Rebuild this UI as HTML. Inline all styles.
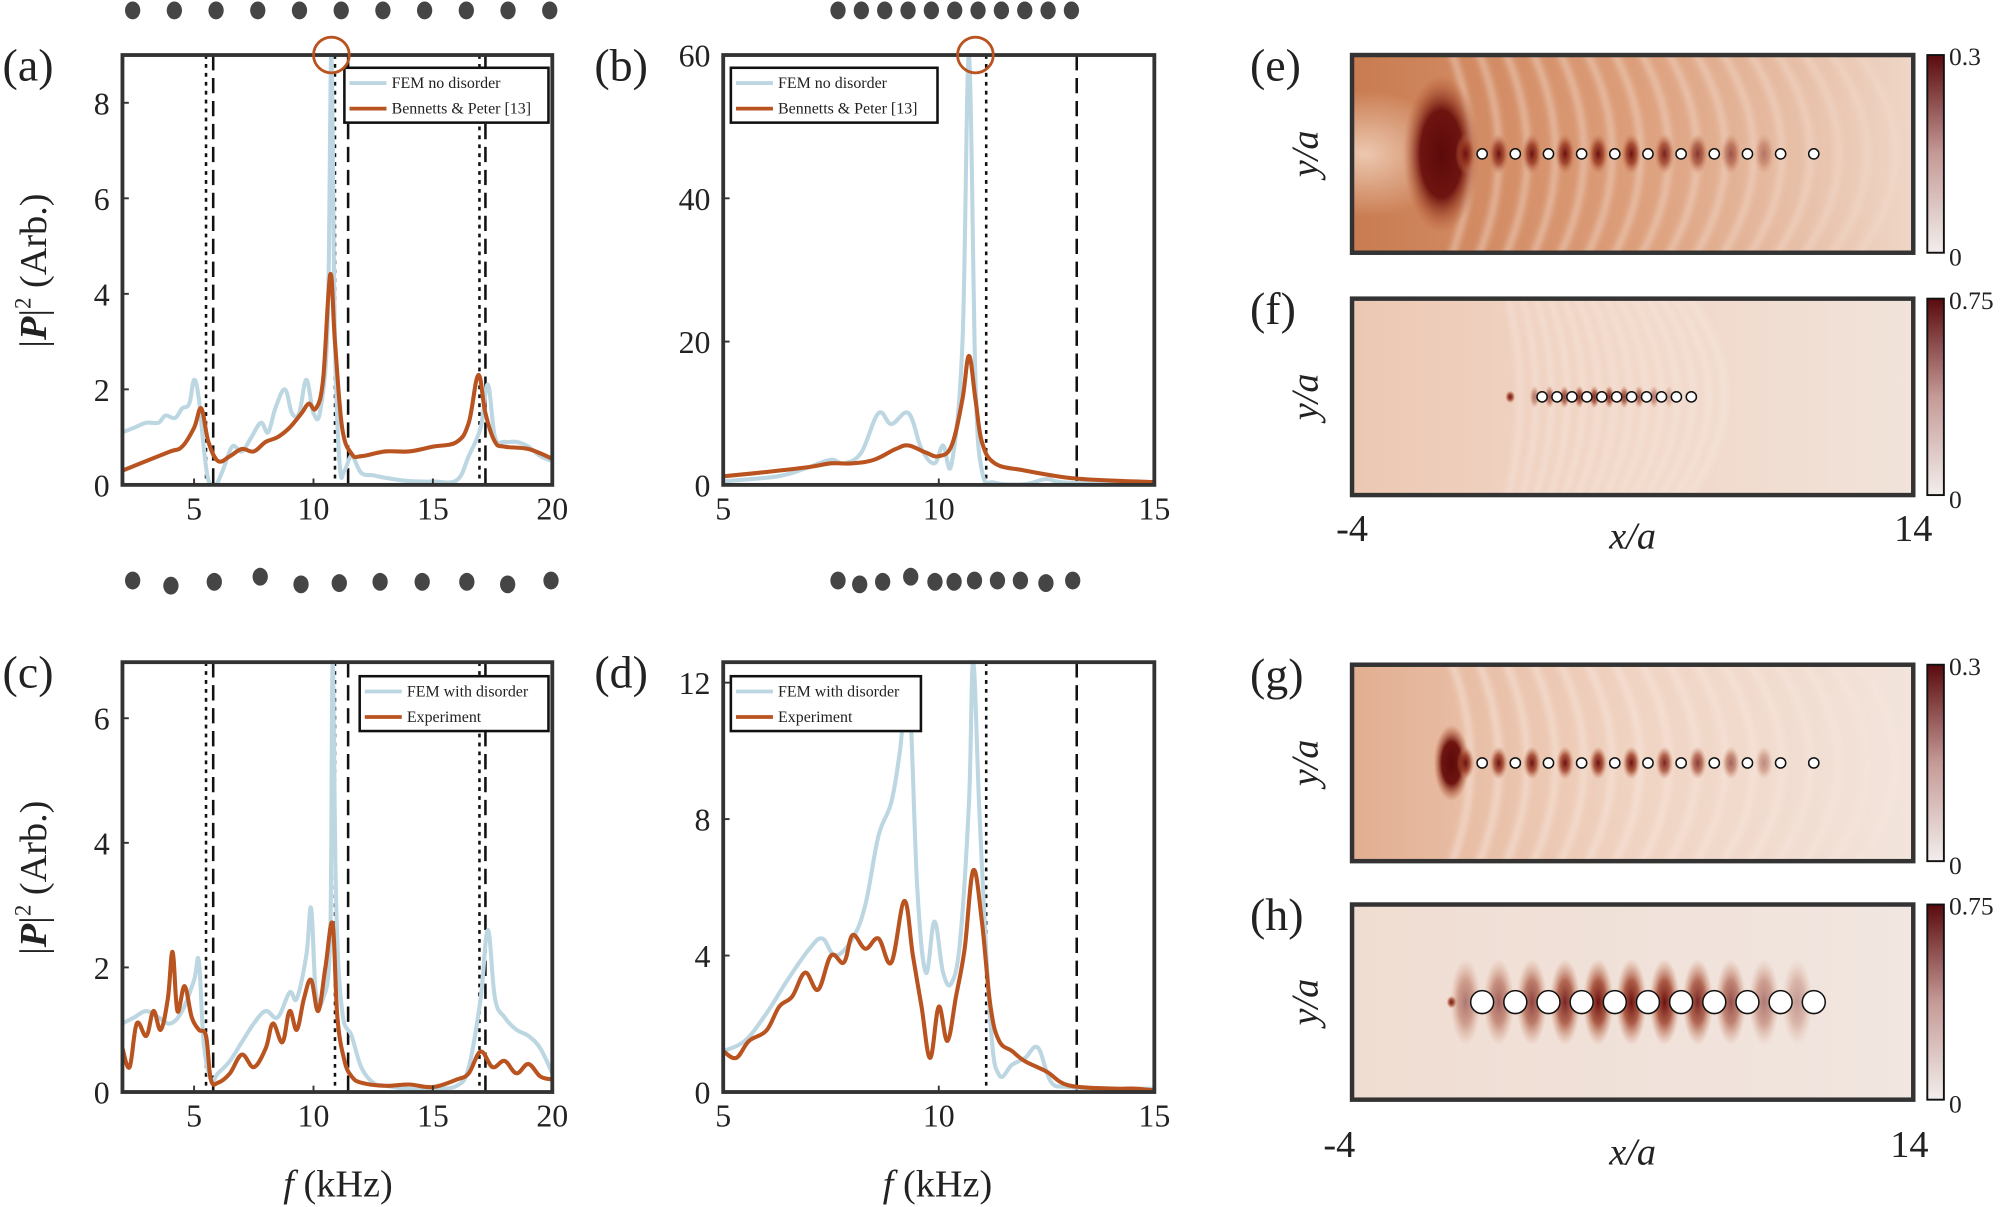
<!DOCTYPE html>
<html><head><meta charset="utf-8"><style>
html,body{margin:0;padding:0;background:#fff;}
svg{display:block;}
text{font-family:"Liberation Serif",serif;fill:#222;}
</style></head><body>
<svg id="fig" xmlns="http://www.w3.org/2000/svg" width="2000" height="1207" viewBox="0 0 1568 946">
<defs>
<linearGradient id="cbar" x1="0" y1="1" x2="0" y2="0"><stop offset="0" stop-color="#f2eeec"/><stop offset="0.5" stop-color="#c59a96"/><stop offset="1" stop-color="#5a0a0e"/></linearGradient>
<linearGradient id="eBase" x1="0" x2="1"><stop offset="0" stop-color="#c97b50"/><stop offset="0.5" stop-color="#dc9e7a"/><stop offset="1" stop-color="#efd6c7"/></linearGradient>
<linearGradient id="gBase" x1="0" x2="1"><stop offset="0" stop-color="#e2ae90"/><stop offset="0.5" stop-color="#f0d3c2"/><stop offset="1" stop-color="#f2e4dc"/></linearGradient>
<linearGradient id="fBase" x1="0" x2="1"><stop offset="0" stop-color="#ecc8b3"/><stop offset="0.5" stop-color="#f1d7c8"/><stop offset="1" stop-color="#f1e3da"/></linearGradient>
<linearGradient id="hBase" x1="0" x2="1"><stop offset="0" stop-color="#f0ddd2"/><stop offset="1" stop-color="#f1e6e0"/></linearGradient>
<radialGradient id="darkBlob"><stop offset="0" stop-color="#5c0a0a"/><stop offset="0.55" stop-color="#6e1410"/><stop offset="1" stop-color="#b5562e" stop-opacity="0"/></radialGradient>
<radialGradient id="lightBlob"><stop offset="0" stop-color="#ecc8b0"/><stop offset="1" stop-color="#ecc8b0" stop-opacity="0"/></radialGradient>
<radialGradient id="blob"><stop offset="0" stop-color="#6a1010"/><stop offset="0.5" stop-color="#9a3a22" stop-opacity="0.8"/><stop offset="1" stop-color="#c87a55" stop-opacity="0"/></radialGradient>
<filter id="blur3"><feGaussianBlur stdDeviation="2.5"/></filter>
<clipPath id="clipE"><rect x="1060" y="43" width="440" height="155"/></clipPath>
<clipPath id="clipF"><rect x="1060" y="234" width="440" height="154"/></clipPath>
<clipPath id="clipG"><rect x="1060" y="521" width="440" height="154"/></clipPath>
<clipPath id="clipH"><rect x="1060" y="709" width="440" height="153"/></clipPath>
</defs>
<g id="charts"></g>
<g id="maps"></g>
</svg>
<script>
// ---------- data ----------
const aFreq=[2,2.5,3,3.5,3.8,4.2,4.5,4.8,5.0,5.2,5.4,5.6,5.9,6.2,6.6,7,7.4,7.8,8.1,8.4,8.8,9.1,9.4,9.7,10.0,10.3,10.6,10.75,10.9,11.1,11.3,11.6,12,12.5,13,14,15,16,16.5,17,17.3,17.6,18,18.5,19,19.5,20];
const aFem=[1.1,1.2,1.3,1.3,1.45,1.4,1.6,1.7,2.2,1.8,0.8,0.1,0.0,0.3,0.8,0.7,1.0,1.3,1.1,1.6,2.0,1.5,1.5,2.2,1.5,1.6,3.5,9.0,3.0,0.4,0.3,0.6,0.25,0.2,0.15,0.08,0.07,0.1,0.6,1.2,2.1,1.0,0.9,0.9,0.8,0.6,0.5];
const aTheoryFreq=[2,3,4,4.5,5,5.3,5.6,6,6.5,7,7.5,8,8.5,9,9.5,9.8,10.1,10.4,10.7,10.9,11.2,11.6,12,13,14,15,16,16.5,16.9,17.2,17.6,18,19,20];
const aTheory=[0.3,0.5,0.7,0.8,1.2,1.6,0.9,0.5,0.6,0.75,0.7,0.9,1.0,1.2,1.5,1.7,1.6,2.2,4.4,3.0,1.2,0.65,0.6,0.7,0.7,0.8,0.9,1.3,2.3,1.5,0.9,0.8,0.75,0.55];
const bFreq=[5,6,6.5,7,7.5,7.8,8.2,8.6,8.9,9.3,9.6,9.9,10.1,10.3,10.55,10.7,10.85,11.0,11.3,12,12.5,13,15];
const bFem=[0.5,1.0,1.5,2.5,3.5,3.0,4.5,10,8.5,10,5,3,5.5,3.0,20,60,15,2,0.3,0.1,0.8,0.3,0.2];
const bTheoryFreq=[5,6,7,7.5,8,8.5,9,9.3,9.7,10,10.3,10.55,10.7,10.85,11.0,11.3,12,13,14,15];
const bTheory=[1.2,1.8,2.5,3.0,3.0,3.5,5.0,5.5,4.5,4.0,5.5,12,18,12,6,3.0,2.0,1.0,0.6,0.4];
const cFreq=[2,2.5,3,3.5,4,4.5,5,5.2,5.4,5.7,6,6.5,7,7.5,8,8.5,9,9.3,9.7,9.9,10.1,10.4,10.7,10.8,10.95,11.2,11.6,12,12.5,13,14,15,16,16.5,17,17.3,17.6,18,18.5,19,19.5,20];
const cFem=[1.1,1.2,1.3,1.2,1.1,1.3,1.8,2.1,0.8,0.2,0.3,0.5,0.8,1.1,1.3,1.2,1.6,1.5,2.2,2.95,1.6,1.5,2.5,6.9,3,1.3,0.9,0.4,0.15,0.1,0.05,0.05,0.1,0.4,1.5,2.6,1.5,1.2,1.0,0.9,0.7,0.3];
const cExpFreq=[2,2.3,2.6,3,3.3,3.6,3.9,4.1,4.3,4.6,4.9,5.2,5.5,5.7,6,6.5,7,7.5,8,8.3,8.7,9,9.3,9.6,9.9,10.2,10.5,10.8,11,11.3,11.6,12,13,14,15,16,16.5,17,17.5,18,18.5,19,19.5,20];
const cExp=[0.7,0.4,1.1,0.9,1.3,1.0,1.5,2.25,1.3,1.7,1.2,1.0,0.9,0.2,0.15,0.3,0.6,0.4,0.7,1.1,0.8,1.3,1.0,1.5,1.8,1.3,2.0,2.7,1.2,0.5,0.25,0.15,0.1,0.12,0.08,0.2,0.3,0.65,0.4,0.5,0.3,0.45,0.25,0.2];
const dFreq=[5,5.5,6,6.5,7,7.3,7.6,8,8.3,8.6,8.9,9.1,9.3,9.5,9.7,9.9,10.1,10.3,10.5,10.7,10.8,10.95,11.2,11.4,11.7,12,12.3,12.6,13,14,15];
const dFem=[1.2,1.5,2.3,3.3,4.2,4.5,4.0,4.5,5.5,7.5,8.5,10,12,6,3.5,5.0,3.5,3.2,4.5,8.5,12.6,8,2,0.5,0.8,1.0,1.3,0.3,0.15,0.1,0.1];
const dExpFreq=[5,5.3,5.6,6,6.3,6.6,6.9,7.2,7.5,7.8,8.0,8.3,8.6,8.9,9.2,9.4,9.6,9.8,10.0,10.2,10.4,10.6,10.8,11.0,11.2,11.4,11.7,12,12.5,13,14,14.5,15];
const dExp=[1.2,1.0,1.5,1.8,2.5,2.8,3.5,3.0,4.0,3.8,4.6,4.2,4.5,3.8,5.6,4.0,2.5,1.0,2.5,1.5,2.8,4.2,6.5,5.0,2.5,1.5,1.2,0.9,0.6,0.2,0.1,0.1,0.05];
const abVlinesDot=[5.5,10.9,16.95];
const abVlinesDash=[5.8,11.45,17.2];
const bdVlinesDot=[11.1];
const bdVlinesDash=[13.2];
const aTicksX=[5,10,15,20], aTicksY=[0,2,4,6,8];
const bTicksX=[5,10,15], bTicksY=[0,20,40,60];
const cTicksY=[0,2,4,6];
const dTicksY=[0,4,8,12];
const orderedScatterers=[0,1,2,3,4,5,6,7,8,9,10];
const disorderOffsetsC=[1,5,2,-2,4,3,2,2,2,4,1];
const disorderXC=[104,134,168,204,236,266,298,331,366,398,432];
const disorderXD=[657,674,692,714,733,748,764,782,800,820,841];
const disorderOffsetsD=[1,4,2,-2,2,2,1,1,1,3,1];

// ---------- helpers ----------
const NS='http://www.w3.org/2000/svg';
function mk(tag,attrs,parent){const e=document.createElementNS(NS,tag);for(const k in attrs)e.setAttribute(k,attrs[k]);parent.appendChild(e);return e;}
function smoothPath(pts){
  let d='M'+pts[0][0].toFixed(1)+','+pts[0][1].toFixed(1);
  for(let i=0;i<pts.length-1;i++){
    const p0=pts[Math.max(0,i-1)],p1=pts[i],p2=pts[i+1],p3=pts[Math.min(pts.length-1,i+2)];
    const t=0.18;
    const c1=[p1[0]+(p2[0]-p0[0])*t,p1[1]+(p2[1]-p0[1])*t];
    const c2=[p2[0]-(p3[0]-p1[0])*t,p2[1]-(p3[1]-p1[1])*t];
    d+=' C'+c1[0].toFixed(1)+','+c1[1].toFixed(1)+' '+c2[0].toFixed(1)+','+c2[1].toFixed(1)+' '+p2[0].toFixed(1)+','+p2[1].toFixed(1);
  }
  return d;
}
const root=document.getElementById('charts');

function panel(cfg){
  const g=mk('g',{},root);
  
  
  const x=v=>cfg.x0+(v-cfg.xmin)/(cfg.xmax-cfg.xmin)*(cfg.x1-cfg.x0);
  const y=v=>cfg.y1-(v-0)/(cfg.ymax)*(cfg.y1-cfg.y0);
  const cp='cp'+cfg.id;
  const cl=mk('clipPath',{id:cp},g);mk('rect',{x:cfg.x0,y:cfg.y0-2,width:cfg.x1-cfg.x0,height:cfg.y1-cfg.y0+2},cl);
  const series=mk('g',{'clip-path':'url(#'+cp+')'},g);
  cfg.dots.forEach(v=>{const l=mk('line',{x1:x(v),x2:x(v),y1:cfg.y0,y2:cfg.y1,stroke:'#111','stroke-width':2,'stroke-dasharray':'3,4'},series);
    });
  cfg.dashes.forEach(v=>{const l=mk('line',{x1:x(v),x2:x(v),y1:cfg.y0,y2:cfg.y1,stroke:'#111','stroke-width':2,'stroke-dasharray':'12,6'},series);
    });
  const p1=mk('path',{d:smoothPath(cfg.fx.map((f,i)=>[x(f),y(cfg.fy[i])])),fill:'none',stroke:'#bcd6e2','stroke-width':3.2},series);
  
  const p2=mk('path',{d:smoothPath(cfg.tx.map((f,i)=>[x(f),y(cfg.ty[i])])),fill:'none',stroke:'#b9531f','stroke-width':3.2},series);
  
  const fr=mk('rect',{x:cfg.x0,y:cfg.y0,width:cfg.x1-cfg.x0,height:cfg.y1-cfg.y0,fill:'none',stroke:'#333','stroke-width':3},g);
  
  cfg.ticksX.forEach(v=>{mk('line',{x1:x(v),x2:x(v),y1:cfg.y1,y2:cfg.y1-5,stroke:'#333','stroke-width':1.5},g);
    const t=mk('text',{x:x(v),y:cfg.y1+27,'text-anchor':'middle','font-size':25},g);t.textContent=v;
    });
  cfg.ticksY.forEach(v=>{mk('line',{x1:cfg.x0,x2:cfg.x0+5,y1:y(v),y2:y(v),stroke:'#333','stroke-width':1.5},g);
    const t=mk('text',{x:cfg.x0-10,y:y(v)+9,'text-anchor':'end','font-size':25},g);t.textContent=v;
    });
  const L=cfg.leg;
  const lg=mk('g',{},g);
  
  mk('rect',{x:L[0],y:L[1],width:L[2],height:43,fill:'#fff',stroke:'#111','stroke-width':2},lg);
  mk('line',{x1:L[0]+4,x2:L[0]+33,y1:L[1]+12,y2:L[1]+12,stroke:'#bcd6e2','stroke-width':3},lg);
  mk('line',{x1:L[0]+4,x2:L[0]+33,y1:L[1]+32,y2:L[1]+32,stroke:'#b9531f','stroke-width':3},lg);
  const t1=mk('text',{x:L[0]+37,y:L[1]+16,'font-size':12.5},lg);t1.textContent=cfg.l1;
  
  const t2=mk('text',{x:L[0]+37,y:L[1]+36,'font-size':12.5},lg);t2.textContent=cfg.l2;
  
  const pl=mk('text',{x:cfg.labX,y:cfg.y0+20,'font-size':36},g);pl.textContent=cfg.lab;
  
  if(cfg.circ){const c=mk('circle',{cx:x(cfg.circ),cy:cfg.y0,r:14,fill:'none',stroke:'#b9531f','stroke-width':2.2},g);
    }
  return {x,y,g};
}

panel({id:'a',name:'panel-a',x0:96,x1:433,y0:43,y1:380,xmin:2,xmax:20,ymax:9,fx:aFreq,fy:aFem,tx:aTheoryFreq,ty:aTheory,secondName:'theory-line',
  dots:abVlinesDot,dashes:abVlinesDash,ticksX:aTicksX,ticksY:aTicksY,leg:[270,53,160],l1:'FEM no disorder',l2:'Bennetts & Peter [13]',lab:'(a)',labX:2,circ:10.75});
panel({id:'b',name:'panel-b',x0:567,x1:905,y0:43,y1:380,xmin:5,xmax:15,ymax:60,fx:bFreq,fy:bFem,tx:bTheoryFreq,ty:bTheory,secondName:'theory-line',
  dots:bdVlinesDot,dashes:bdVlinesDash,ticksX:bTicksX,ticksY:bTicksY,leg:[573,53,162],l1:'FEM no disorder',l2:'Bennetts & Peter [13]',lab:'(b)',labX:466,circ:10.85});
panel({id:'c',name:'panel-c',x0:96,x1:433,y0:519,y1:856,xmin:2,xmax:20,ymax:6.9,fx:cFreq,fy:cFem,tx:cExpFreq,ty:cExp,secondName:'experiment-line',
  dots:abVlinesDot,dashes:abVlinesDash,ticksX:aTicksX,ticksY:cTicksY,leg:[282,530,148],l1:'FEM with disorder',l2:'Experiment',lab:'(c)',labX:2});
panel({id:'d',name:'panel-d',x0:567,x1:905,y0:519,y1:856,xmin:5,xmax:15,ymax:12.6,fx:dFreq,fy:dFem,tx:dExpFreq,ty:dExp,secondName:'experiment-line',
  dots:bdVlinesDot,dashes:bdVlinesDash,ticksX:bTicksX,ticksY:dTicksY,leg:[573,530,149],l1:'FEM with disorder',l2:'Experiment',lab:'(d)',labX:466});

[[212],[688]].forEach(([cy])=>{const t=mk('text',{x:0,y:0,'font-size':30,'text-anchor':'middle',transform:`translate(36,${cy}) rotate(-90)`},root);
  t.innerHTML='|<tspan font-style="italic" font-weight="bold">P</tspan>|<tspan font-size="18" dy="-12">2</tspan><tspan dy="12"> (Arb.)</tspan>';
  });
[[265],[735]].forEach(([cx])=>{const t=mk('text',{x:cx,y:938,'font-size':30,'text-anchor':'middle'},root);
  t.innerHTML='<tspan font-style="italic">f</tspan> (kHz)';
  });

function dotRow(xs,ys,name){const g=mk('g',{},root);
  xs.forEach((xx,i)=>{const c=mk('ellipse',{cx:xx,cy:ys[i],rx:6,ry:7,fill:'#454545'},g);
    });}
dotRow(orderedScatterers.map(i=>104+i*32.7),orderedScatterers.map(()=>8),'ordered-array-a');
dotRow(orderedScatterers.map(i=>657+i*18.3),orderedScatterers.map(()=>8),'ordered-array-b');
dotRow(disorderXC,disorderOffsetsC.map(o=>454+o),'disordered-array-c');
dotRow(disorderXD,disorderOffsetsD.map(o=>454+o),'disordered-array-d');

// ---------- field maps ----------
const maps=document.getElementById('maps');
function fieldMap(o){
  const g=mk('g',{},maps);
  const inner=mk('g',{'clip-path':'url(#'+o.clip+')'},g);
  mk('rect',{x:1060,y:o.y0,width:440,height:o.h,fill:'url(#'+o.base+')'},inner);
  const cy=o.y0+o.h/2;
  if(o.lightLeft)mk('ellipse',{cx:1070,cy:cy,rx:70,ry:50,fill:'url(#lightBlob)'},inner);
  const arcs=mk('g',{filter:'url(#blur3)'},inner);
  for(let k=0;k<o.nArcs;k++){
    const cx=o.arcCx+k*o.arcStep;
    const r=o.arcR+k*o.arcGrow;
    mk('path',{d:`M${cx-r*0.25},${o.y0-10} Q${cx+r*0.35},${cy} ${cx-r*0.25},${o.y0+o.h+10}`,fill:'none',stroke:o.arcColor,'stroke-width':o.arcW,opacity:o.arcOp},arcs);
  }
  if(o.bigBlob)mk('ellipse',{cx:o.bigBlob[0],cy:cy,rx:o.bigBlob[1],ry:o.bigBlob[2],fill:'url(#darkBlob)'},inner);
  if(o.smallDot)mk('ellipse',{cx:o.smallDot,cy:cy,rx:4,ry:5,fill:'url(#blob)'},inner);
  o.xs.forEach((xx,i)=>{if(i<o.xs.length-1||o.lastBlob){mk('ellipse',{cx:xx-o.sp/2,cy:cy,rx:o.blobRx,ry:o.blobRy,fill:'url(#blob)',opacity:o.blobOp[i]},inner);}});
  o.xs.forEach(xx=>{const c=mk('circle',{cx:xx,cy:cy,r:o.r,fill:'#fff',stroke:'#111','stroke-width':1.2},inner);
    });
  const fr=mk('rect',{x:1060,y:o.y0,width:440,height:o.h,fill:'none',stroke:'#333','stroke-width':3.5},g);
  
  const cb=mk('rect',{x:1511,y:o.y0,width:13,height:o.h,fill:'url(#cbar)',stroke:'#111','stroke-width':1.5},g);
  
  const t1=mk('text',{x:1528,y:o.y0+8,'font-size':20},g);t1.textContent=o.max;
  
  const t0=mk('text',{x:1528,y:o.y0+o.h+10,'font-size':20},g);t0.textContent='0';
  
  const pl=mk('text',{x:980,y:o.y0+20,'font-size':36},g);pl.textContent=o.lab;
  
  const yl=mk('text',{x:0,y:0,'font-size':30,'font-style':'italic','text-anchor':'middle',transform:`translate(1033,${cy}) rotate(-90)`},g);
  yl.textContent='y/a';
}
const xs11=orderedScatterers.map(i=>1162+i*26);
fieldMap({name:'field-map-e',clip:'clipE',base:'eBase',y0:43,h:155,lab:'(e)',max:'0.3',xs:xs11,sp:26,r:4,lightLeft:true,
  nArcs:16,arcCx:1150,arcStep:22,arcR:60,arcGrow:4,arcColor:'#f4dccd',arcW:4,arcOp:0.7,bigBlob:[1130,30,62],
  blobRx:8,blobRy:16,blobOp:[1,1,1,1,1,1,0.9,0.8,0.6,0.4,0.3]});
fieldMap({name:'field-map-f',clip:'clipF',base:'fBase',y0:234,h:154,lab:'(f)',max:'0.75',xs:orderedScatterers.map(i=>1209+i*11.7),sp:11.7,r:4,smallDot:1184,
  nArcs:14,arcCx:1190,arcStep:12,arcR:40,arcGrow:6,arcColor:'#f7e9e0',arcW:3,arcOp:0.8,bigBlob:null,
  blobRx:4,blobRy:9,blobOp:[0.5,0.7,0.8,0.9,0.9,0.9,0.8,0.7,0.5,0.3,0.2]});
fieldMap({name:'field-map-g',clip:'clipG',base:'gBase',y0:521,h:154,lab:'(g)',max:'0.3',xs:xs11,sp:26,r:4,
  nArcs:16,arcCx:1150,arcStep:22,arcR:60,arcGrow:4,arcColor:'#f7e6dc',arcW:4,arcOp:0.8,bigBlob:[1138,14,30],
  blobRx:7,blobRy:13,blobOp:[1,1,1,1,1,1,0.9,0.8,0.6,0.4,0.3]});
fieldMap({name:'field-map-h',clip:'clipH',base:'hBase',y0:709,h:153,lab:'(h)',max:'0.75',xs:xs11,sp:26,r:9,smallDot:1138,
  nArcs:0,arcCx:0,arcStep:0,arcR:0,arcGrow:0,arcColor:'#fff',arcW:0,arcOp:0,bigBlob:null,lastBlob:true,
  blobRx:12,blobRy:34,blobOp:[0.5,0.6,0.75,0.9,1,1,1,0.9,0.7,0.5,0.35]});

[[412,1060,1500],[895,1050,1497]].forEach(([yy,xl,xr])=>{
  const a=mk('text',{x:xl,y:yy+12,'font-size':30,'text-anchor':'middle'},maps);a.textContent='-4';
  
  const b=mk('text',{x:xr,y:yy+12,'font-size':30,'text-anchor':'middle'},maps);b.textContent='14';
  
  const c=mk('text',{x:1280,y:yy+18,'font-size':30,'font-style':'italic','text-anchor':'middle'},maps);c.textContent='x/a';
  
});
</script>
</body></html>
